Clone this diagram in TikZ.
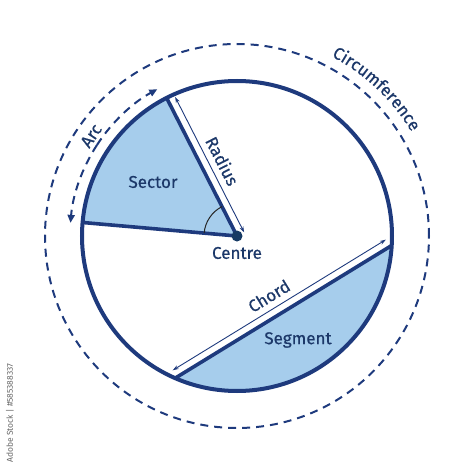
\documentclass[tikz,border=0pt]{standalone}
\usepackage{fontspec}
\setmainfont{Fira Sans}
\newfontfamily\lblfont{Fira Sans}[FakeBold=0.6]
\usetikzlibrary{calc,arrows.meta,decorations.text}
\definecolor{navy}{RGB}{30,58,125}
\definecolor{navytext}{RGB}{28,56,105}
\definecolor{lightfill}{RGB}{166,205,236}
\definecolor{dotcol}{RGB}{22,58,100}
\tikzset{
  outline/.style={draw=navy,line width=4pt},
  edge/.style={draw=navy,line width=3.6pt},
  dimarrow/.style={draw=navy,line width=0.9pt,{Stealth[length=6pt,width=4pt]}-{Stealth[length=6pt,width=4pt]}},
  dashline/.style={draw=navy,line width=2pt,dash pattern=on 8pt off 6pt},
  lbl/.style={text=navytext,font=\lblfont\fontsize{17}{17}\selectfont,inner sep=0pt},
}
\begin{document}
\begin{tikzpicture}[x=1pt,y=1pt]
\useasboundingbox (-237,-238) rectangle (237,236);
\coordinate (O) at (0,0);
\coordinate (R1) at (117:155);
\coordinate (S2) at (175:155);
\coordinate (C1) at (-3.5:155);
\coordinate (C2) at (-113.5:155);
% fills
\fill[lightfill] (O) -- (R1) arc (117:175:155) -- cycle;
\fill[lightfill] (C1) arc (-3.5:-113.5:155) -- cycle;
% outer dashed circumference
\draw[dashline] (O) circle (192);
% arc arrow
\draw[dashline,-{Triangle[length=8pt,width=7pt]}] (147:167) arc (147:118.5:167);
\draw[dashline,-{Triangle[length=8pt,width=7pt]}] (147:167) arc (147:175.5:167);
% main circle
\draw[outline] (O) circle (155);
% sector edges and chord
\draw[edge,line join=round] (S2) -- (O) -- (R1);
\draw[edge] (C1) -- (C2);
% angle mark
\draw[line width=1pt,black!85] (117:33) arc (117:175:33);
% radius arrow
\draw[dimarrow,shorten >=3pt] ($(O)!8pt!-90:(R1)$) -- ($(R1)!8pt!90:(O)$);
% chord arrow
\draw[dimarrow,shorten <=2pt,shorten >=2pt] ($(C2)!8pt!90:(C1)$) -- ($(C1)!8pt!-90:(C2)$);
% centre dot
\fill[dotcol] (O) circle (5.5);
% labels
\node[lbl,rotate=-63] (radius) at (-14.5,75) {Radius};
\node[lbl] (sector) at (-84,54) {Sector};
\node[lbl] (centre) at (0,-17) {Centre};
\node[lbl,rotate=31.5] (chord) at (32,-60) {Chord};
\node[lbl] (segment) at (61,-104) {Segment};
\node[lbl,rotate=56] (arc) at (145.5:177) {Arc};
\path[decorate,decoration={text along path,text align=center,
  text={|\lblfont\fontsize{17}{17}\selectfont\color{navytext}|Circumference}}]
  (68:203) arc (68:25:203);
\node[text=black!60,font=\fontsize{8.5}{8.5}\selectfont,rotate=90,inner sep=0pt] (wm) at (-227,-177) {Adobe Stock | \#585388337};
\end{tikzpicture}
\end{document}
